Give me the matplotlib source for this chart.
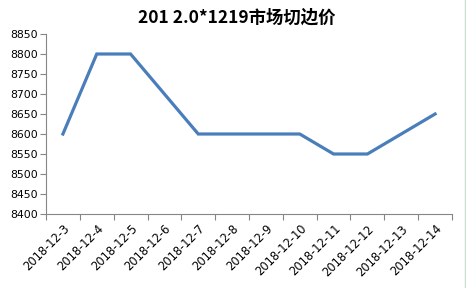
import matplotlib
matplotlib.use("Agg")
import matplotlib.pyplot as plt

# data
dates = ["2018-12-3", "2018-12-4", "2018-12-5", "2018-12-6", "2018-12-7", "2018-12-8",
         "2018-12-9", "2018-12-10", "2018-12-11", "2018-12-12", "2018-12-13", "2018-12-14"]
prices = [8600, 8800, 8800, 8700, 8600, 8600, 8600, 8600, 8550, 8550, 8600, 8650]
yticks = list(range(8400, 8851, 50))

plt.rcParams['font.family'] = ['Noto Sans CJK SC', 'DejaVu Sans']

fig = plt.figure(figsize=(4.66, 2.88), dpi=100)
ax = fig.add_axes([46/466, 1 - 214/288, 406/466, 180/288])

x = [i + 0.5 for i in range(len(dates))]
ax.plot(x, prices, color="#4A7EBB", linewidth=2.3, solid_joinstyle="miter")

ax.set_xlim(0, len(dates))
ax.set_ylim(8400, 8850)
ax.set_yticks(yticks)
ax.set_yticklabels([str(v) for v in yticks], fontsize=7.8, family="DejaVu Sans")

# category axis: ticks between categories, labels at centres
ax.set_xticks(range(len(dates) + 1))
ax.set_xticklabels([])
ax.set_xticks(x, minor=True)
ax.set_xticklabels(dates, minor=True, rotation=45, ha="right", va="top",
                   rotation_mode="anchor", fontsize=8.3, family="DejaVu Sans")
ax.tick_params(axis="x", which="minor", length=0, pad=6)
ax.tick_params(axis="x", which="major", length=4, color="#868686", direction="out")
ax.tick_params(axis="y", length=4, color="#868686", direction="out", pad=2)

for s in ["top", "right"]:
    ax.spines[s].set_visible(False)
for s in ["left", "bottom"]:
    ax.spines[s].set_color("#868686")
    ax.spines[s].set_linewidth(0.8)

fig.text(237/466, 1 - 18/288, "201 2.0*1219市场切边价", ha="center", va="center",
         fontsize=12.5, fontweight="bold")

# thin greenish frame line on the right edge
fig.add_artist(plt.Line2D([465/466, 465/466], [0, 1], color="#C8E0CC", linewidth=1))

fig.savefig("out.png", dpi=100)
